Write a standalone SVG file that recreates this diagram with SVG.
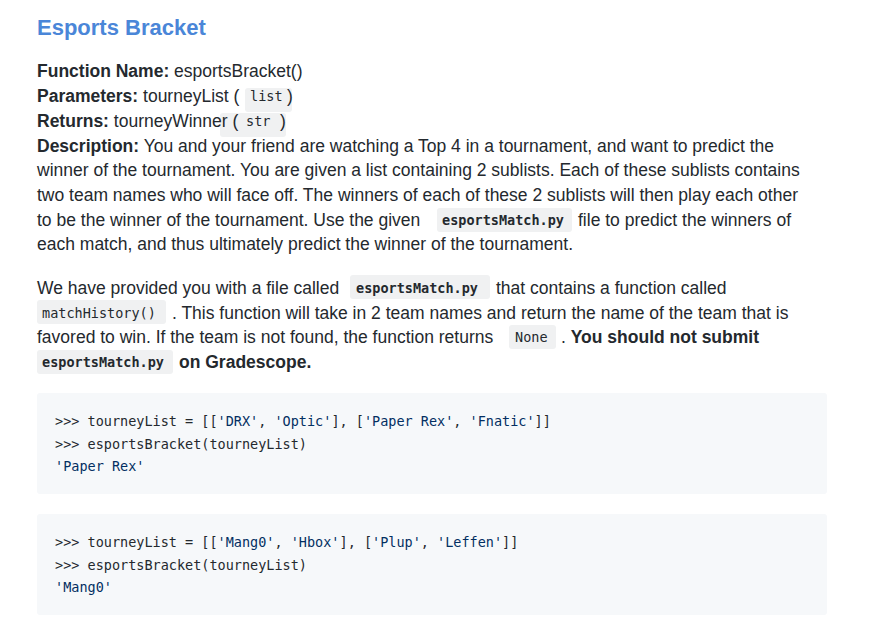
<svg xmlns="http://www.w3.org/2000/svg" width="882" height="637" viewBox="0 0 882 637">
<style>
.t{font-family:"Liberation Sans",Arial,sans-serif;font-size:17.5px;fill:#24292e}
.b{font-weight:bold}
.m{font-family:"DejaVu Sans Mono","Liberation Mono",monospace;font-size:13.5px;fill:#24292e}
.c{fill:#f0f1f2}
.blk{fill:#f6f8fa}
.s{fill:#032f62}
</style>
<rect width="882" height="637" fill="#fff"/>
<text x="37" y="35" font-family="Liberation Sans,Arial,sans-serif" font-size="22" font-weight="bold" fill="#4a86d8">Esports Bracket</text>
<g id="inline-code">
<rect class="c" x="245" y="88" width="47" height="24" rx="3"/>
<rect class="c" x="220" y="113" width="66" height="24" rx="3"/>
<rect class="c" x="437" y="208" width="135" height="24" rx="3"/>
<rect class="c" x="350" y="275" width="140" height="24" rx="3"/>
<rect class="c" x="37" y="300" width="129" height="24" rx="3"/>
<rect class="c" x="509" y="325" width="47" height="24" rx="3"/>
<rect class="c" x="37" y="350" width="136" height="24" rx="3"/>
</g>
<g id="text">
<text class="t" x="37" y="77"><tspan class="b">Function Name:</tspan> esportsBracket()</text>
<text class="t" x="37" y="102"><tspan class="b">Parameters:</tspan> tourneyList ( </text>
<text class="m" x="250" y="101">list</text>
<text class="t" x="287" y="102">)</text>
<text class="t" x="37" y="127"><tspan class="b">Returns:</tspan> tourneyWinner ( </text>
<text class="m" x="246" y="126">str</text>
<text class="t" x="280" y="127">)</text>
<text class="t" x="37" y="152"><tspan class="b">Description:</tspan> You and your friend are watching a Top 4 in a tournament, and want to predict the</text>
<text class="t" x="37" y="176">winner of the tournament. You are given a list containing 2 sublists. Each of these sublists contains</text>
<text class="t" x="37" y="201">two team names who will face off. The winners of each of these 2 sublists will then play each other</text>
<text class="t" x="37" y="226">to be the winner of the tournament. Use the given</text>
<text class="m b" x="442" y="225">esportsMatch.py</text>
<text class="t" x="578" y="226">file to predict the winners of</text>
<text class="t" x="37" y="250">each match, and thus ultimately predict the winner of the tournament.</text>
<text class="t" x="37" y="294">We have provided you with a file called</text>
<text class="m b" x="356" y="293">esportsMatch.py</text>
<text class="t" x="496" y="294">that contains a function called</text>
<text class="m" x="42" y="318">matchHistory()</text>
<text class="t" x="172" y="319">. This function will take in 2 team names and return the name of the team that is</text>
<text class="t" x="37" y="343">favored to win. If the team is not found, the function returns</text>
<text class="m" x="515" y="342">None</text>
<text class="t" x="561" y="343">. <tspan class="b">You should not submit</tspan></text>
<text class="m b" x="42" y="367">esportsMatch.py</text>
<text class="t b" x="179" y="368">on Gradescope.</text>
</g>
<g id="example1">
<rect class="blk" x="37" y="393" width="790" height="101" rx="3"/>
<text class="m" x="55" y="426">&gt;&gt;&gt; tourneyList = [[<tspan class="s">'DRX'</tspan>, <tspan class="s">'Optic'</tspan>], [<tspan class="s">'Paper Rex'</tspan>, <tspan class="s">'Fnatic'</tspan>]]</text>
<text class="m" x="55" y="449">&gt;&gt;&gt; esportsBracket(tourneyList)</text>
<text class="m s" x="55" y="471">'Paper Rex'</text>
</g>
<g id="example2">
<rect class="blk" x="37" y="514" width="790" height="101" rx="3"/>
<text class="m" x="55" y="547">&gt;&gt;&gt; tourneyList = [[<tspan class="s">'Mang0'</tspan>, <tspan class="s">'Hbox'</tspan>], [<tspan class="s">'Plup'</tspan>, <tspan class="s">'Leffen'</tspan>]]</text>
<text class="m" x="55" y="570">&gt;&gt;&gt; esportsBracket(tourneyList)</text>
<text class="m s" x="55" y="592">'Mang0'</text>
</g>
</svg>
